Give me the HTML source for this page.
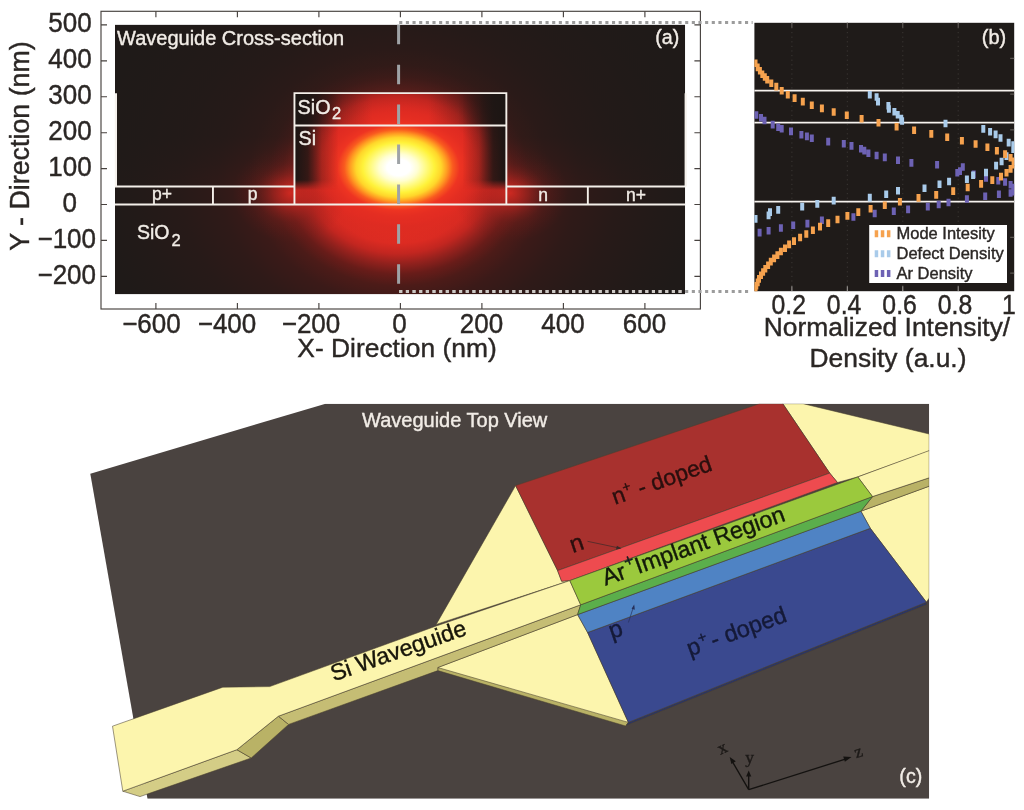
<!DOCTYPE html>
<html lang="en"><head><meta charset="utf-8"><title>Waveguide figure</title>
<style>html,body{margin:0;padding:0;background:#fff}body{width:1024px;height:810px;overflow:hidden}svg{display:block;filter:blur(0.55px)}</style></head><body>
<svg width="1024" height="810" viewBox="0 0 1024 810">
<defs>
<clipPath id="hmclip"><rect x="115.0" y="24.8" width="570.1" height="269.4"/></clipPath>
<clipPath id="pbclip"><rect x="754.4" y="22.8" width="259.80000000000007" height="268.4"/></clipPath>
<clipPath id="pcclip"><rect x="80" y="403.7" width="849.2" height="395.1"/></clipPath>
<radialGradient id="far" gradientUnits="userSpaceOnUse" cx="0" cy="0" r="300.0" gradientTransform="translate(398.6 175.5) scale(1 0.85)">
<stop offset="0.0000" stop-color="#e52e22"/>
<stop offset="0.2267" stop-color="#e42d22"/>
<stop offset="0.2667" stop-color="#dc2b22"/>
<stop offset="0.3067" stop-color="#c22620"/>
<stop offset="0.3467" stop-color="#92211d"/>
<stop offset="0.3867" stop-color="#681c19"/>
<stop offset="0.4333" stop-color="#4c1b18"/>
<stop offset="0.5000" stop-color="#3b1a18"/>
<stop offset="0.6000" stop-color="#2f1a18"/>
<stop offset="0.7333" stop-color="#271a18"/>
<stop offset="0.8833" stop-color="#221a18"/>
<stop offset="1.0000" stop-color="#1f1a18"/>
</radialGradient>
<radialGradient id="core" gradientUnits="userSpaceOnUse" cx="0" cy="0" r="106.7" gradientTransform="translate(398.6 167.5) scale(1 0.7)">
<stop offset="0.0000" stop-color="#ffffff" stop-opacity="1"/>
<stop offset="0.1091" stop-color="#ffffff" stop-opacity="1"/>
<stop offset="0.1818" stop-color="#fffed2" stop-opacity="1"/>
<stop offset="0.2545" stop-color="#fffb86" stop-opacity="1"/>
<stop offset="0.3364" stop-color="#fff23a" stop-opacity="1"/>
<stop offset="0.4000" stop-color="#ffd62a" stop-opacity="1"/>
<stop offset="0.4545" stop-color="#ff9c22" stop-opacity="1"/>
<stop offset="0.5091" stop-color="#f95a1f" stop-opacity="1"/>
<stop offset="0.5727" stop-color="#ee3422" stop-opacity="1"/>
<stop offset="0.6545" stop-color="#e52e22" stop-opacity="0.9"/>
<stop offset="0.7455" stop-color="#e02b22" stop-opacity="0.6"/>
<stop offset="0.8364" stop-color="#d02821" stop-opacity="0.3"/>
<stop offset="0.9273" stop-color="#c02620" stop-opacity="0.1"/>
<stop offset="1.0000" stop-color="#b02420" stop-opacity="0"/>
</radialGradient>
<linearGradient id="outdark" gradientUnits="userSpaceOnUse" x1="0" y1="186.54" x2="0" y2="136.54"><stop offset="0" stop-color="#1f1a18" stop-opacity="0"/><stop offset="0.5" stop-color="#1f1a18" stop-opacity="0.35"/><stop offset="1" stop-color="#1f1a18" stop-opacity="0.6"/></linearGradient>
<radialGradient id="wallL" gradientUnits="userSpaceOnUse" cx="0" cy="0" r="58" gradientTransform="translate(290.45 193.0056) scale(1 0.85)">
<stop offset="0" stop-color="#dc2b22" stop-opacity="0.85"/>
<stop offset="0.3" stop-color="#c02620" stop-opacity="0.55"/>
<stop offset="0.6" stop-color="#8a201c" stop-opacity="0.25"/>
<stop offset="1" stop-color="#701a18" stop-opacity="0"/>
</radialGradient>
<radialGradient id="wallR" gradientUnits="userSpaceOnUse" cx="0" cy="0" r="58" gradientTransform="translate(510.34999999999997 193.0056) scale(1 0.85)">
<stop offset="0" stop-color="#dc2b22" stop-opacity="0.85"/>
<stop offset="0.3" stop-color="#c02620" stop-opacity="0.55"/>
<stop offset="0.6" stop-color="#8a201c" stop-opacity="0.25"/>
<stop offset="1" stop-color="#701a18" stop-opacity="0"/>
</radialGradient>
<linearGradient id="vf" gradientUnits="userSpaceOnUse" x1="0" y1="93.148" x2="0" y2="204.5"><stop offset="0" stop-color="#fff"/><stop offset="0.78" stop-color="#fff"/><stop offset="0.87" stop-color="#000"/><stop offset="1" stop-color="#000"/></linearGradient>
<mask id="vfade" maskUnits="userSpaceOnUse" x="115.0" y="24.8" width="570.1" height="269.4"><rect x="115.0" y="24.8" width="570.1" height="269.4" fill="url(#vf)"/></mask>
<linearGradient id="darkL" x1="0" y1="0" x2="1" y2="0"><stop offset="0" stop-color="#1c1614" stop-opacity="1"/><stop offset="0.3" stop-color="#1c1614" stop-opacity="0.85"/><stop offset="0.62" stop-color="#1c1614" stop-opacity="0.28"/><stop offset="1" stop-color="#1c1614" stop-opacity="0"/></linearGradient>
<linearGradient id="darkR" x1="1" y1="0" x2="0" y2="0"><stop offset="0" stop-color="#1c1614" stop-opacity="1"/><stop offset="0.3" stop-color="#1c1614" stop-opacity="0.85"/><stop offset="0.62" stop-color="#1c1614" stop-opacity="0.28"/><stop offset="1" stop-color="#1c1614" stop-opacity="0"/></linearGradient>
</defs>
<rect width="1024" height="810" fill="#ffffff"/>
<g id="panel-a">
<g clip-path="url(#hmclip)">
<rect x="115.0" y="24.8" width="570.1" height="269.4" fill="#1f1a18"/>
<rect x="115.0" y="24.8" width="570.1" height="269.4" fill="url(#far)"/>
<rect x="115.0" y="24.8" width="570.1" height="269.4" fill="url(#wallL)"/>
<rect x="115.0" y="24.8" width="570.1" height="269.4" fill="url(#wallR)"/>
<rect x="115.0" y="24.8" width="570.1" height="269.4" fill="url(#core)"/>
<path fill-rule="evenodd" d="M115.0 24.8H685.1V186.54H115.0zM294.45 93.148H506.34999999999997V186.54H294.45z" fill="url(#outdark)"/>
<g mask="url(#vfade)">
<rect x="294.45" y="93.148" width="44" height="111.352" fill="url(#darkL)"/>
<rect x="462.34999999999997" y="93.148" width="44" height="111.352" fill="url(#darkR)"/>
</g>
<rect x="294.45" y="93.148" width="78" height="32.328" fill="url(#darkL)" opacity="0.75"/>
<rect x="428.34999999999997" y="93.148" width="78" height="32.328" fill="url(#darkR)" opacity="0.75"/>
</g>
<g stroke="#f4efe9" stroke-width="1.9" fill="none" stroke-linejoin="miter">
<path d="M115.0 204.5H685.1"/>
<path d="M115.0 186.54H294.45M506.34999999999997 186.54H685.1"/>
<path d="M212.95 186.54V204.5M587.8499999999999 186.54V204.5"/>
<path d="M294.45 204.5V93.148H506.34999999999997V204.5"/>
<path d="M294.45 125.476H506.34999999999997"/>
</g>
<path d="M115.9 93.148V186.54M685.7 93.148V186.54" stroke="#f6f2ed" stroke-width="2.2" fill="none"/>
<path d="M398.6 24.8V294.2" stroke="#9fa3a6" stroke-width="3" stroke-dasharray="19.5 20.4" fill="none"/>
<rect x="101.0" y="11.3" width="599.4" height="297.7" fill="none" stroke="#47423f" stroke-width="1.15"/>
<path d="M155.9 309.0v-6M155.9 11.3v6M237.4 309.0v-6M237.4 11.3v6M318.9 309.0v-6M318.9 11.3v6M400.4 309.0v-6M400.4 11.3v6M481.9 309.0v-6M481.9 11.3v6M563.4 309.0v-6M563.4 11.3v6M644.9 309.0v-6M644.9 11.3v6M101.0 24.9h6M700.4 24.9h-6M101.0 60.8h6M700.4 60.8h-6M101.0 96.7h6M700.4 96.7h-6M101.0 132.7h6M700.4 132.7h-6M101.0 168.6h6M700.4 168.6h-6M101.0 204.5h6M700.4 204.5h-6M101.0 240.4h6M700.4 240.4h-6M101.0 276.3h6M700.4 276.3h-6" stroke="#47423f" stroke-width="1.15" fill="none"/>
<g font-family='"Liberation Sans", Arial, sans-serif' font-size="26" fill="#2b2725" stroke="#2b2725" stroke-width="0.4">
<text transform="translate(151.4 332.8) scale(1 1.06)" text-anchor="middle">−600</text>
<text transform="translate(227.0 332.8) scale(1 1.06)" text-anchor="middle">−400</text>
<text transform="translate(311.0 332.8) scale(1 1.06)" text-anchor="middle">−200</text>
<text transform="translate(399.5 332.8) scale(1 1.06)" text-anchor="middle">0</text>
<text transform="translate(481.5 332.8) scale(1 1.06)" text-anchor="middle">200</text>
<text transform="translate(563.0 332.8) scale(1 1.06)" text-anchor="middle">400</text>
<text transform="translate(644.5 332.8) scale(1 1.06)" text-anchor="middle">600</text>
<text transform="translate(91.6 32.4) scale(1 1.06)" text-anchor="end">500</text>
<text transform="translate(91.6 68.3) scale(1 1.06)" text-anchor="end">400</text>
<text transform="translate(91.6 104.2) scale(1 1.06)" text-anchor="end">300</text>
<text transform="translate(91.6 140.2) scale(1 1.06)" text-anchor="end">200</text>
<text transform="translate(91.6 176.1) scale(1 1.06)" text-anchor="end">100</text>
<text transform="translate(77.0 212.0) scale(1 1.06)" text-anchor="end">0</text>
<text transform="translate(96.0 247.9) scale(1 1.06)" text-anchor="end">−100</text>
<text transform="translate(96.0 283.8) scale(1 1.06)" text-anchor="end">−200</text>
</g>
<text x="297.3" y="357.3" font-family='"Liberation Sans", Arial, sans-serif' font-size="26.4" fill="#2b2725" stroke="#2b2725" stroke-width="0.4">X- Direction (nm)</text>
<text transform="translate(28.5 146) rotate(-90)" text-anchor="middle" font-family='"Liberation Sans", Arial, sans-serif' font-size="26.8" fill="#2b2725" stroke="#2b2725" stroke-width="0.4">Y - Direction (nm)</text>
<g font-family='"Liberation Sans", Arial, sans-serif' fill="#f1ece6" stroke="#f1ece6" stroke-width="0.4">
<text x="117" y="45.3" font-size="20">Waveguide Cross-section</text>
<text x="667.3" y="43.8" font-size="19.6" text-anchor="middle">(a)</text>
<text x="297.6" y="114.1" font-size="19.8">SiO<tspan font-size="16.5" dx="1.5" dy="4.6">2</tspan></text>
<text x="298.6" y="144.6" font-size="19.8">Si</text>
<text x="137" y="239" font-size="19.5">SiO<tspan font-size="16.5" dx="2" dy="6.5">2</tspan></text>
<text x="162" y="200" font-size="17.5" text-anchor="middle">p+</text>
<text x="252.5" y="200" font-size="17.5" text-anchor="middle">p</text>
<text x="543" y="200.5" font-size="17.5" text-anchor="middle">n</text>
<text x="636" y="200.5" font-size="17.5" text-anchor="middle">n+</text>
</g>
</g>
<path d="M399.2 22.5H752.6M399.2 291.5H749" stroke="#9c9c9c" stroke-width="3" stroke-dasharray="3.1 3.55" fill="none"/>
<path d="M399.2 291.5H685.2" stroke="#cbc7c3" stroke-width="3" stroke-dasharray="3.1 3.55" fill="none"/>
<g id="panel-b">
<rect x="754.4" y="22.8" width="259.80000000000007" height="268.4" fill="#1f1b19"/>
<path d="M791.9 22.8V291.2M847.3 22.8V291.2M902.8 22.8V291.2M958.2 22.8V291.2" stroke="#3b3734" stroke-width="1" stroke-dasharray="1.2 3.4" fill="none"/>
<path d="M791.9 291.2v-5M847.3 291.2v-5M902.8 291.2v-5M958.2 291.2v-5" stroke="#a8a4a0" stroke-width="1" fill="none"/>
<path d="M791.9 22.8v5M847.3 22.8v5M902.8 22.8v5M958.2 22.8v5M1014.2 58.3h-4M1014.2 94.1h-4M1014.2 129.9h-4M1014.2 165.7h-4M1014.2 201.5h-4M1014.2 237.3h-4M1014.2 273.1h-4" stroke="#6a6561" stroke-width="1" fill="none"/>
<path d="M754.4 90.7H1014.2M754.4 122.7H1014.2M754.4 201.6H1014.2" stroke="#f6f2ee" stroke-width="1.8" fill="none"/>
<g clip-path="url(#pbclip)">
<path d="M754.3 111.2h4.0v7.6h-4.0zM759.0 114.0h4.0v7.6h-4.0zM762.5 116.7h4.0v7.6h-4.0zM770.7 120.8h4.0v7.6h-4.0zM776.2 123.5h4.0v7.6h-4.0zM779.7 124.9h4.0v7.6h-4.0zM789.0 127.6h4.0v7.6h-4.0zM799.4 130.9h4.0v7.6h-4.0zM804.9 132.6h4.0v7.6h-4.0zM809.8 134.5h4.0v7.6h-4.0zM826.2 137.8h4.0v7.6h-4.0zM841.8 140.0h4.0v7.6h-4.0zM849.5 142.1h4.0v7.6h-4.0zM859.0 144.9h4.0v7.6h-4.0zM862.3 146.8h4.0v7.6h-4.0zM866.4 149.5h4.0v7.6h-4.0zM874.6 151.7h4.0v7.6h-4.0zM882.8 153.6h4.0v7.6h-4.0zM896.0 156.4h4.0v7.6h-4.0zM909.4 159.1h4.0v7.6h-4.0zM935.1 161.0h4.0v7.6h-4.0zM960.8 163.2h4.0v7.6h-4.0zM958.0 167.3h4.0v7.6h-4.0zM955.3 168.9h4.0v7.6h-4.0zM971.7 170.6h4.0v7.6h-4.0zM984.0 174.1h4.0v7.6h-4.0zM996.3 176.9h4.0v7.6h-4.0zM1003.1 178.2h4.0v7.6h-4.0zM1008.6 181.0h4.0v7.6h-4.0zM1011.3 183.7h4.0v7.6h-4.0zM1011.3 187.8h4.0v7.6h-4.0zM1008.6 189.2h4.0v7.6h-4.0zM996.9 190.5h4.0v7.6h-4.0zM983.2 192.5h4.0v7.6h-4.0zM964.9 195.2h4.0v7.6h-4.0zM946.5 198.7h4.0v7.6h-4.0zM936.7 200.7h4.0v7.6h-4.0zM925.8 202.8h4.0v7.6h-4.0zM906.1 205.6h4.0v7.6h-4.0zM891.8 207.5h4.0v7.6h-4.0zM872.7 209.7h4.0v7.6h-4.0zM851.4 213.2h4.0v7.6h-4.0zM819.9 216.5h4.0v7.6h-4.0zM805.4 219.8h4.0v7.6h-4.0zM791.2 221.4h4.0v7.6h-4.0zM778.9 224.2h4.0v7.6h-4.0zM766.6 226.9h4.0v7.6h-4.0zM757.6 228.8h4.0v7.6h-4.0z" fill="#6d62b4"/>
<path d="M867.8 91.0h4.0v7.6h-4.0zM874.6 93.2h4.0v7.6h-4.0zM876.0 97.8h4.0v7.6h-4.0zM886.4 101.9h4.0v7.6h-4.0zM886.9 105.2h4.0v7.6h-4.0zM892.4 107.9h4.0v7.6h-4.0zM895.7 110.9h4.0v7.6h-4.0zM899.2 114.8h4.0v7.6h-4.0zM900.1 117.2h4.0v7.6h-4.0zM943.5 119.7h4.0v7.6h-4.0zM981.3 125.1h4.0v7.6h-4.0zM988.1 127.9h4.0v7.6h-4.0zM993.6 130.6h4.0v7.6h-4.0zM998.5 134.2h4.0v7.6h-4.0zM1006.7 138.8h4.0v7.6h-4.0zM1012.2 141.6h4.0v7.6h-4.0zM1011.3 141.3h4.0v7.6h-4.0zM1011.3 145.4h4.0v7.6h-4.0zM1004.5 152.3h4.0v7.6h-4.0zM999.6 157.7h4.0v7.6h-4.0zM994.1 161.8h4.0v7.6h-4.0zM984.0 168.7h4.0v7.6h-4.0zM971.1 171.4h4.0v7.6h-4.0zM964.9 175.5h4.0v7.6h-4.0zM947.1 177.7h4.0v7.6h-4.0zM937.5 180.4h4.0v7.6h-4.0zM922.5 184.5h4.0v7.6h-4.0zM896.0 187.0h4.0v7.6h-4.0zM884.2 190.5h4.0v7.6h-4.0zM867.8 193.8h4.0v7.6h-4.0zM831.7 196.8h4.0v7.6h-4.0zM815.3 200.1h4.0v7.6h-4.0zM800.2 202.8h4.0v7.6h-4.0zM776.2 206.1h4.0v7.6h-4.0zM768.0 208.3h4.0v7.6h-4.0zM766.6 211.6h4.0v7.6h-4.0zM753.5 215.1h4.0v7.6h-4.0z" fill="#a9cbea"/>
<path d="M753.5 59.5h4.0v7.6h-4.0zM755.7 63.6h4.0v7.6h-4.0zM757.9 66.9h4.0v7.6h-4.0zM760.3 70.5h4.0v7.6h-4.0zM762.8 73.2h4.0v7.6h-4.0zM765.2 75.9h4.0v7.6h-4.0zM769.3 79.5h4.0v7.6h-4.0zM774.3 82.8h4.0v7.6h-4.0zM779.7 86.9h4.0v7.6h-4.0zM785.8 91.0h4.0v7.6h-4.0zM792.6 94.3h4.0v7.6h-4.0zM800.8 97.8h4.0v7.6h-4.0zM809.8 101.4h4.0v7.6h-4.0zM819.9 104.6h4.0v7.6h-4.0zM831.7 108.2h4.0v7.6h-4.0zM844.8 111.5h4.0v7.6h-4.0zM859.6 115.0h4.0v7.6h-4.0zM876.5 118.9h4.0v7.6h-4.0zM894.6 123.0h4.0v7.6h-4.0zM912.1 126.5h4.0v7.6h-4.0zM929.3 130.1h4.0v7.6h-4.0zM945.2 133.4h4.0v7.6h-4.0zM959.9 136.9h4.0v7.6h-4.0zM973.6 140.2h4.0v7.6h-4.0zM985.4 143.5h4.0v7.6h-4.0zM994.9 147.0h4.0v7.6h-4.0zM1003.1 150.3h4.0v7.6h-4.0zM1008.6 153.9h4.0v7.6h-4.0zM1011.6 157.4h4.0v7.6h-4.0zM1012.2 161.0h4.0v7.6h-4.0zM1008.6 165.1h4.0v7.6h-4.0zM1004.5 168.9h4.0v7.6h-4.0zM999.0 172.8h4.0v7.6h-4.0zM990.3 176.3h4.0v7.6h-4.0zM979.1 180.1h4.0v7.6h-4.0zM965.7 183.7h4.0v7.6h-4.0zM951.2 187.3h4.0v7.6h-4.0zM934.2 191.1h4.0v7.6h-4.0zM916.5 194.1h4.0v7.6h-4.0zM897.9 197.9h4.0v7.6h-4.0zM882.8 201.5h4.0v7.6h-4.0zM868.6 205.0h4.0v7.6h-4.0zM856.3 208.3h4.0v7.6h-4.0zM845.4 212.1h4.0v7.6h-4.0zM835.5 215.7h4.0v7.6h-4.0zM826.2 219.3h4.0v7.6h-4.0zM818.0 222.8h4.0v7.6h-4.0zM810.9 226.4h4.0v7.6h-4.0zM804.3 230.2h4.0v7.6h-4.0zM798.1 233.7h4.0v7.6h-4.0zM792.0 237.3h4.0v7.6h-4.0zM787.1 240.6h4.0v7.6h-4.0zM783.0 244.4h4.0v7.6h-4.0zM778.9 247.7h4.0v7.6h-4.0zM775.4 251.3h4.0v7.6h-4.0zM772.1 254.6h4.0v7.6h-4.0zM768.8 257.8h4.0v7.6h-4.0zM766.1 261.4h4.0v7.6h-4.0zM763.3 265.0h4.0v7.6h-4.0zM761.1 268.2h4.0v7.6h-4.0zM759.0 271.5h4.0v7.6h-4.0zM757.0 275.1h4.0v7.6h-4.0zM755.7 278.6h4.0v7.6h-4.0zM754.3 281.9h4.0v7.6h-4.0zM753.5 285.2h4.0v7.6h-4.0zM752.9 288.5h4.0v7.6h-4.0z" fill="#f6a24e"/>
</g>
<rect x="869.2" y="225" width="137.8" height="58" fill="#ffffff"/>
<path d="M874.7 230.3h3.5v7h-3.5zM880.8 230.3h3.5v7h-3.5zM886.9 230.3h3.5v7h-3.5z" fill="#f6a24e"/>
<text x="896.5" y="239.4" font-family='"Liberation Sans", Arial, sans-serif' font-size="16.5" fill="#2b2725" stroke="#2b2725" stroke-width="0.4">Mode Intesity</text>
<path d="M874.7 250.2h3.5v7h-3.5zM880.8 250.2h3.5v7h-3.5zM886.9 250.2h3.5v7h-3.5z" fill="#a9cbea"/>
<text x="896.5" y="259.3" font-family='"Liberation Sans", Arial, sans-serif' font-size="16.5" fill="#2b2725" stroke="#2b2725" stroke-width="0.4">Defect Density</text>
<path d="M874.7 270.1h3.5v7h-3.5zM880.8 270.1h3.5v7h-3.5zM886.9 270.1h3.5v7h-3.5z" fill="#6d62b4"/>
<text x="896.5" y="279.2" font-family='"Liberation Sans", Arial, sans-serif' font-size="16.5" fill="#2b2725" stroke="#2b2725" stroke-width="0.4">Ar Density</text>
<text x="994" y="44" text-anchor="middle" font-family='"Liberation Sans", Arial, sans-serif' font-size="20" fill="#f1ece6" stroke="#f1ece6" stroke-width="0.4">(b)</text>
<g font-family='"Liberation Sans", Arial, sans-serif' font-size="24.8" fill="#2b2725" stroke="#2b2725" stroke-width="0.4" text-anchor="middle">
<text transform="translate(788.7 314.0) scale(1 1.1)">0.2</text>
<text transform="translate(844.1 314.0) scale(1 1.1)">0.4</text>
<text transform="translate(899.6 314.0) scale(1 1.1)">0.6</text>
<text transform="translate(955.0 314.0) scale(1 1.1)">0.8</text>
<text transform="translate(1008.8 314.0) scale(1 1.1)">1</text>
</g>
<text x="887" y="336.2" text-anchor="middle" font-family='"Liberation Sans", Arial, sans-serif' font-size="26.4" fill="#2b2725" stroke="#2b2725" stroke-width="0.4">Normalized Intensity/</text>
<text x="888" y="367.2" text-anchor="middle" font-family='"Liberation Sans", Arial, sans-serif' font-size="26.4" fill="#2b2725" stroke="#2b2725" stroke-width="0.4">Density (a.u.)</text>
</g>
<g id="panel-c">
<g clip-path="url(#pcclip)">
<polygon points="325.6,403.7 929.2,403.7 929.2,798.8 147.5,798.8 90.3,473.7" fill="#4a4340" stroke="none" stroke-width="0" stroke-linejoin="round"/>
<polygon points="436.2,624.4 515.6,485.6 557.6,570.6 561.6,581.2 569.8,580.6" fill="#fcf5ad" stroke="#4a4030" stroke-width="0.55" stroke-linejoin="round"/>
<polygon points="437.8,667.5 577.6,614.6 587.6,632.5 628.4,722.4 625.6,726.0 437.8,670.6" fill="#b9b266" stroke="#4a4030" stroke-width="0.55" stroke-linejoin="round"/>
<polygon points="437.8,667.5 577.6,614.6 587.6,632.5 628.4,722.4" fill="#fcf5ad" stroke="#4a4030" stroke-width="0.55" stroke-linejoin="round"/>
<polygon points="782.8,403.7 803.1,403.7 929.2,434.0 929.2,451.0 857.8,476.9 837.5,482.5 829.7,473.1" fill="#fcf5ad" stroke="#4a4030" stroke-width="0.55" stroke-linejoin="round"/>
<polygon points="860.9,511.2 929.2,486.2 929.2,598.0 926.4,602.2 870.3,528.3" fill="#fcf5ad" stroke="#4a4030" stroke-width="0.55" stroke-linejoin="round"/>
<polygon points="515.6,485.6 759.4,403.7 782.8,403.7 829.7,473.1 557.6,570.6" fill="#a8312e" stroke="#4a4030" stroke-width="0.55" stroke-linejoin="round"/>
<polygon points="557.6,570.6 829.7,473.1 837.5,482.5 569.8,580.6 561.6,581.2" fill="#ee4b4f" stroke="#4a4030" stroke-width="0.55" stroke-linejoin="round"/>
<polygon points="628.4,722.4 926.4,602.2 926.4,604.6 626.4,725.2" fill="#2a3568" stroke="#4a4030" stroke-width="0.55" stroke-linejoin="round"/>
<polygon points="587.6,632.5 870.3,528.3 926.4,602.2 628.4,722.4" fill="#3a498f" stroke="#4a4030" stroke-width="0.55" stroke-linejoin="round"/>
<polygon points="577.6,614.6 860.9,511.2 870.3,528.3 587.6,632.5" fill="#4f83c4" stroke="#4a4030" stroke-width="0.55" stroke-linejoin="round"/>
<polygon points="122.8,791.2 236.9,749.7 251.2,758.0 140.0,796.6" fill="#d4cd86" stroke="#4a4030" stroke-width="0.55" stroke-linejoin="round"/>
<polygon points="236.9,749.7 278.4,716.2 288.6,724.4 251.2,758.0" fill="#b9b266" stroke="#4a4030" stroke-width="0.55" stroke-linejoin="round"/>
<polygon points="278.4,716.2 580.7,604.8 577.6,614.6 437.8,667.5 437.8,670.6 288.6,724.4" fill="#c5bd74" stroke="#4a4030" stroke-width="0.55" stroke-linejoin="round"/>
<polygon points="872.5,496.6 929.2,477.8 929.2,486.2 860.9,511.2" fill="#b9b266" stroke="#4a4030" stroke-width="0.55" stroke-linejoin="round"/>
<polygon points="580.7,604.8 872.5,496.6 860.9,511.2 577.6,614.6" fill="#5bae4b" stroke="#4a4030" stroke-width="0.55" stroke-linejoin="round"/>
<polygon points="112.5,726.2 222.8,687.2 269.7,686.6 436.2,626.0 569.8,580.6 580.7,604.8 278.4,716.2 236.9,749.7 122.8,791.2" fill="#fcf5ad" stroke="#4a4030" stroke-width="0.55" stroke-linejoin="round"/>
<polygon points="857.8,476.9 929.2,450.6 929.2,477.8 872.5,496.6" fill="#fcf5ad" stroke="#4a4030" stroke-width="0.55" stroke-linejoin="round"/>
<polygon points="569.8,580.6 857.8,476.9 872.5,496.6 580.7,604.8" fill="#9bc93d" stroke="#4a4030" stroke-width="0.55" stroke-linejoin="round"/>
</g>
<g font-family='"Liberation Sans", Arial, sans-serif' fill="#1d1a18" stroke="#1d1a18" stroke-width="0.4">
<text x="362" y="427" font-size="20" fill="#f1ece6" stroke="#f1ece6" stroke-width="0.4">Waveguide Top View</text>
<text transform="translate(400.8 658) rotate(-19.3)" font-size="23.2" text-anchor="middle" fill="#17150a" stroke="#17150a" stroke-width="0.4">Si Waveguide</text>
<text transform="translate(615 504.8) rotate(-19.5)" font-size="22.8" fill="#2a0f0e" stroke="#2a0f0e" stroke-width="0.4">n<tspan font-size="14" dy="-8.5">+</tspan><tspan dy="8.5"> - doped</tspan></text>
<text transform="translate(605.6 585.7) rotate(-19.8)" font-size="23.4" fill="#131a0a" stroke="#131a0a" stroke-width="0.4">Ar<tspan font-size="16.5" dx="2" dy="-10.5" fill="#10162e">+</tspan><tspan dx="-0.2" dy="10.5">Implant Region</tspan></text>
<text transform="translate(689.9 656.5) rotate(-19.8)" font-size="23.4" fill="#151a38" stroke="#151a38" stroke-width="0.4">p<tspan font-size="15" dx="0.5" dy="-9">+</tspan><tspan dx="3" dy="9">- doped</tspan></text>
<text transform="translate(572.8 553) rotate(-19)" font-size="24" fill="#2a0f0e" stroke="#2a0f0e" stroke-width="0.4">n</text>
<text transform="translate(611.8 639) rotate(-19)" font-size="24" fill="#151a38" stroke="#151a38" stroke-width="0.4">p</text>
<text x="910.8" y="783" font-size="19.6" fill="#f1ece6" stroke="#f1ece6" stroke-width="0.4" text-anchor="middle">(c)</text>
</g>
<path d="M587.5 541.3L620 548.2" stroke="#3a2a28" stroke-width="0.7" fill="none"/>
<path d="M621.5 548.6l-5.5 0.8l0.9-3.6z" fill="#3a2a28"/>
<path d="M628.4 622.5L633.6 606.5" stroke="#26305a" stroke-width="0.7" fill="none"/>
<path d="M634.2 604.6l0.6 5.2l-3.2-1.1z" fill="#26305a"/>
<g stroke="#141210" stroke-width="1.35" fill="none">
<path d="M748.7 789.7L848.5 758.1M748.7 789.7L731.2 759.6M748.7 789.7V773.5"/>
</g>
<path d="M851.5 757.1l-6.6 4.6l-1.7-5.2z" fill="#141210"/>
<path d="M729.7 757.0l6.1 4.3l-4.4 2.6z" fill="#141210"/>
<path d="M748.7 770.5l2.6 6h-5.2z" fill="#141210"/>
<g font-family='"Liberation Serif", "Times New Roman", serif' font-size="17.5" fill="#1d1a18" stroke="#1d1a18" stroke-width="0.4" text-anchor="middle">
<text transform="translate(724.5 753) rotate(-25)">x</text>
<text x="749.5" y="763">y</text>
<text transform="translate(860 757) rotate(-18)">z</text>
</g>
</g>
</svg></body></html>
